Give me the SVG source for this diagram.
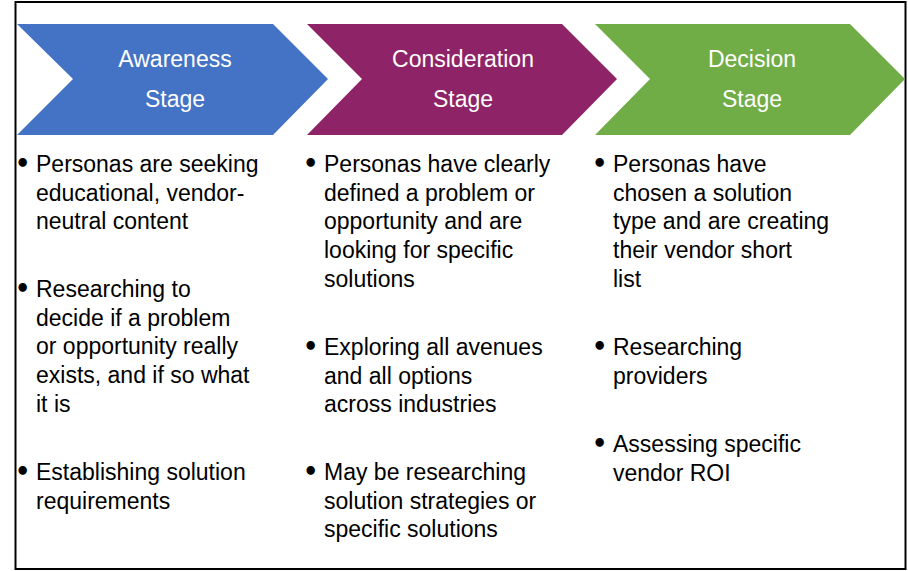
<svg xmlns="http://www.w3.org/2000/svg" width="908" height="571" viewBox="0 0 908 571">
<style>
.frame{fill:#fff;stroke:#000;stroke-width:2}
.head{font-family:"Liberation Sans",Arial,sans-serif;font-size:23px;fill:#fff;text-anchor:middle}
.body{font-family:"Liberation Sans",Arial,sans-serif;font-size:23px;fill:#000}
.bul{font-family:"DejaVu Sans",sans-serif;font-size:24px;font-weight:bold;fill:#000}
</style>
<rect class="frame" x="15.5" y="2" width="890" height="567"/>
<g id="awareness">
<polygon points="17,24 273,24 328,79 273,135 17,135 73,79" fill="#4472C4"/>
<text class="head" x="175" y="67">Awareness</text>
<text class="head" x="175" y="107">Stage</text>
</g>
<g id="consideration">
<polygon points="307,24 562,24 617,79 562,135 307,135 362,79" fill="#8E2367"/>
<text class="head" x="463" y="67">Consideration</text>
<text class="head" x="463" y="107">Stage</text>
</g>
<g id="decision">
<polygon points="595,24 850,24 905,79 850,135 595,135 650,79" fill="#70AD47"/>
<text class="head" x="752" y="67">Decision</text>
<text class="head" x="752" y="107">Stage</text>
</g>
<g id="awareness-list">
<text class="bul" x="15" y="172">•</text>
<text class="body" x="36" y="172">Personas are seeking</text>
<text class="body" x="36" y="200.7">educational, vendor-</text>
<text class="body" x="36" y="229.4">neutral content</text>
<text class="bul" x="15" y="297">•</text>
<text class="body" x="36" y="297">Researching to</text>
<text class="body" x="36" y="325.7">decide if a problem</text>
<text class="body" x="36" y="354.4">or opportunity really</text>
<text class="body" x="36" y="383.1">exists, and if so what</text>
<text class="body" x="36" y="411.8">it is</text>
<text class="bul" x="15" y="480">•</text>
<text class="body" x="36" y="480">Establishing solution</text>
<text class="body" x="36" y="508.7">requirements</text>
</g>
<g id="consideration-list">
<text class="bul" x="303" y="172">•</text>
<text class="body" x="324" y="172">Personas have clearly</text>
<text class="body" x="324" y="200.7">defined a problem or</text>
<text class="body" x="324" y="229.4">opportunity and are</text>
<text class="body" x="324" y="258.1">looking for specific</text>
<text class="body" x="324" y="286.8">solutions</text>
<text class="bul" x="303" y="355">•</text>
<text class="body" x="324" y="355">Exploring all avenues</text>
<text class="body" x="324" y="383.7">and all options</text>
<text class="body" x="324" y="412.4">across industries</text>
<text class="bul" x="303" y="480">•</text>
<text class="body" x="324" y="480">May be researching</text>
<text class="body" x="324" y="508.7">solution strategies or</text>
<text class="body" x="324" y="537.4">specific solutions</text>
</g>
<g id="decision-list">
<text class="bul" x="592" y="172">•</text>
<text class="body" x="613" y="172">Personas have</text>
<text class="body" x="613" y="200.7">chosen a solution</text>
<text class="body" x="613" y="229.4">type and are creating</text>
<text class="body" x="613" y="258.1">their vendor short</text>
<text class="body" x="613" y="286.8">list</text>
<text class="bul" x="592" y="355">•</text>
<text class="body" x="613" y="355">Researching</text>
<text class="body" x="613" y="383.7">providers</text>
<text class="bul" x="592" y="452">•</text>
<text class="body" x="613" y="452">Assessing specific</text>
<text class="body" x="613" y="480.7">vendor ROI</text>
</g>
</svg>
